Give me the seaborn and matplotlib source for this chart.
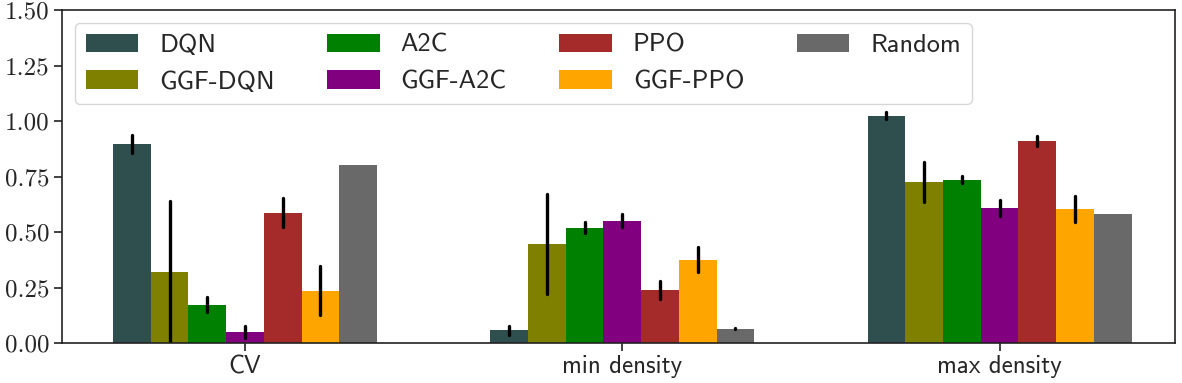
import matplotlib
matplotlib.use("Agg")
import matplotlib.pyplot as plt
import seaborn as sns
import pandas as pd

metrics = ["CV", "min density", "max density"]
methods = ["DQN", "GGF-DQN", "A2C", "GGF-A2C", "PPO", "GGF-PPO", "Random"]
colors = ["#2F4F4F", "#808000", "#008000", "#800080", "#A52A2A", "#FFA500", "#696969"]

# mean values per method (order: CV, min density, max density)
dqn_mean = [0.895, 0.058, 1.024]
ggf_dqn_mean = [0.32, 0.447, 0.725]
a2c_mean = [0.172, 0.519, 0.736]
ggf_a2c_mean = [0.048, 0.551, 0.609]
ppo_mean = [0.587, 0.240, 0.910]
ggf_ppo_mean = [0.236, 0.375, 0.605]
random_mean = [0.802, 0.064, 0.582]

# half-widths of error bars
dqn_err = [0.040, 0.020, 0.015]
ggf_dqn_err = [0.32, 0.225, 0.092]
a2c_err = [0.033, 0.025, 0.015]
ggf_a2c_err = [0.027, 0.030, 0.035]
ppo_err = [0.065, 0.040, 0.024]
ggf_ppo_err = [0.110, 0.056, 0.058]
random_err = [0.002, 0.002, 0.0]

yticks = [0.0, 0.25, 0.5, 0.75, 1.0, 1.25, 1.5]
ytick_labels = ["0.00", "0.25", "0.50", "0.75", "1.00", "1.25", "1.50"]

means = [dqn_mean, ggf_dqn_mean, a2c_mean, ggf_a2c_mean, ppo_mean, ggf_ppo_mean, random_mean]
errs = [dqn_err, ggf_dqn_err, a2c_err, ggf_a2c_err, ppo_err, ggf_ppo_err, random_err]

rows = []
for meth, m, e in zip(methods, means, errs):
    for met, v, d in zip(metrics, m, e):
        rows.append({"metric": met, "method": meth, "value": v - d})
        rows.append({"metric": met, "method": meth, "value": v + d})
df = pd.DataFrame(rows)

sns.set_style("ticks")
fig = plt.figure(figsize=(11.82, 3.83), dpi=100)
ax = fig.add_axes([62 / 1182, 1 - 343 / 383, (1175 - 62) / 1182, (343 - 10) / 383])

sns.barplot(data=df, x="metric", y="value", hue="method", order=metrics,
            hue_order=methods, palette=colors, estimator="mean",
            errorbar=lambda x: (x.min(), x.max()), width=0.7, gap=0,
            saturation=1, linewidth=0,
            err_kws={"color": "black", "linewidth": 2.4}, ax=ax)

ax.set_ylim(0, 1.5)
ax.set_xlim(-0.485, 2.465)
ax.set_yticks(yticks)
ax.set_yticklabels(ytick_labels, fontfamily="cmr10", fontsize=18)
ax.set_xticks(range(len(metrics)))
ax.set_xticklabels(metrics, fontfamily="cmss10", fontsize=18)
ax.set_xlabel("")
ax.set_ylabel("")
for s in ax.spines.values():
    s.set_visible(True)
    s.set_linewidth(1.2)
    s.set_color("#222222")
ax.tick_params(axis="both", length=6, width=1.2, color="#222222", pad=3)

leg = ax.legend(loc="upper left", ncol=4, prop={"family": "cmss10", "size": 18.9},
                frameon=True, fancybox=True, framealpha=0.8, edgecolor="#cccccc",
                borderaxespad=0.5, handletextpad=0.8, columnspacing=2.0)

fig.savefig("out.png", dpi=100)
